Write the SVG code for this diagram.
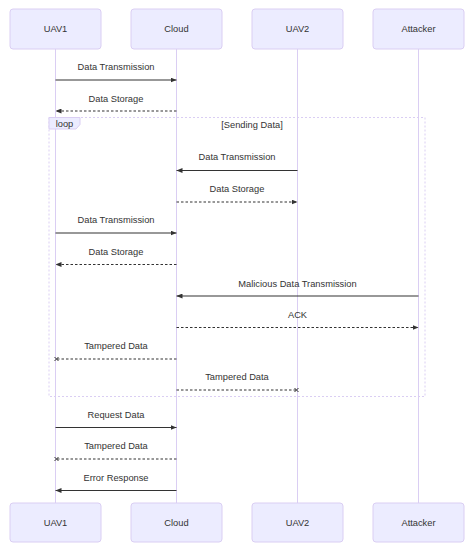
<svg xmlns="http://www.w3.org/2000/svg" width="471" height="550" viewBox="0 0 471 550">
<style>
.actor{fill:#ECECFF;stroke:#DACEF3;stroke-width:1}
.atext{font-family:"Liberation Sans",Arial,sans-serif;font-size:9.3px;fill:#333;text-anchor:middle}
.life{stroke:#DACEF3;stroke-width:1}
.msg{stroke:#333;stroke-width:1.2;fill:none}
.dash{stroke-dasharray:2.5,2}
.mtext{font-family:"Liberation Sans",Arial,sans-serif;font-size:9.3px;fill:#333;text-anchor:middle}
.loop{fill:none;stroke:#DACEF3;stroke-width:1;stroke-dasharray:2,2}
.lbox{fill:#ECECFF;stroke:#DACEF3;stroke-width:1}
</style>
<defs>
<marker id="arrow" viewBox="0 0 12 10" refX="12" refY="5" markerWidth="6" markerHeight="5" markerUnits="userSpaceOnUse" orient="auto"><path d="M0,0 L12,5 L0,10 z" fill="#333"/></marker>
<marker id="cross" viewBox="0 0 10 10" refX="5" refY="5" markerWidth="5" markerHeight="5" markerUnits="userSpaceOnUse" orient="auto"><path d="M1,1 L9,9 M9,1 L1,9" stroke="#333" stroke-width="2"/></marker>
</defs>
<rect width="471" height="550" fill="#fff"/>
<g id="lifelines">
<line class="life" x1="55.5" y1="49" x2="55.5" y2="503"/>
<line class="life" x1="176.5" y1="49" x2="176.5" y2="503"/>
<line class="life" x1="297.5" y1="49" x2="297.5" y2="503"/>
<line class="life" x1="418.5" y1="49" x2="418.5" y2="503"/>
</g>
<g id="UAV1"><rect class="actor" x="10" y="9" width="91" height="40" rx="3"/><text class="atext" x="55.5" y="32.3">UAV1</text></g>
<g id="Cloud"><rect class="actor" x="131" y="9" width="91" height="40" rx="3"/><text class="atext" x="176.5" y="32.3">Cloud</text></g>
<g id="UAV2"><rect class="actor" x="252" y="9" width="91" height="40" rx="3"/><text class="atext" x="297.5" y="32.3">UAV2</text></g>
<g id="Attacker"><rect class="actor" x="373" y="9" width="91" height="40" rx="3"/><text class="atext" x="418.5" y="32.3">Attacker</text></g>
<g id="UAV1-bottom"><rect class="actor" x="10" y="503" width="91" height="39" rx="3"/><text class="atext" x="55.5" y="525.5">UAV1</text></g>
<g id="Cloud-bottom"><rect class="actor" x="131" y="503" width="91" height="39" rx="3"/><text class="atext" x="176.5" y="525.5">Cloud</text></g>
<g id="UAV2-bottom"><rect class="actor" x="252" y="503" width="91" height="39" rx="3"/><text class="atext" x="297.5" y="525.5">UAV2</text></g>
<g id="Attacker-bottom"><rect class="actor" x="373" y="503" width="91" height="39" rx="3"/><text class="atext" x="418.5" y="525.5">Attacker</text></g>
<g id="loop">
<rect class="loop" x="49" y="117.5" width="376" height="279"/>
<path class="lbox" d="M49,117.5 L80,117.5 L80,124.5 L76,129 L49,129 Z"/>
<text class="mtext" x="64.5" y="126.5">loop</text>
<text class="mtext" x="252" y="127.8">[Sending Data]</text>
</g>
<g id="connectors">
<line class="msg" x1="55.5" y1="80" x2="176.5" y2="80" marker-end="url(#arrow)"/>
<text class="mtext" x="116" y="70">Data Transmission</text>
<line class="msg dash" x1="176.5" y1="111" x2="55.5" y2="111" marker-end="url(#arrow)"/>
<text class="mtext" x="116" y="101.5">Data Storage</text>
<line class="msg" x1="297.5" y1="170.5" x2="176.5" y2="170.5" marker-end="url(#arrow)"/>
<text class="mtext" x="237" y="160">Data Transmission</text>
<line class="msg dash" x1="176.5" y1="202" x2="297.5" y2="202" marker-end="url(#arrow)"/>
<text class="mtext" x="237" y="192">Data Storage</text>
<line class="msg" x1="55.5" y1="233" x2="176.5" y2="233" marker-end="url(#arrow)"/>
<text class="mtext" x="116" y="223">Data Transmission</text>
<line class="msg dash" x1="176.5" y1="264.5" x2="55.5" y2="264.5" marker-end="url(#arrow)"/>
<text class="mtext" x="116" y="254.5">Data Storage</text>
<line class="msg" x1="418.5" y1="296" x2="176.5" y2="296" marker-end="url(#arrow)"/>
<text class="mtext" x="297.5" y="286.5">Malicious Data Transmission</text>
<line class="msg dash" x1="176.5" y1="327.5" x2="418.5" y2="327.5" marker-end="url(#arrow)"/>
<text class="mtext" x="297.5" y="318">ACK</text>
<line class="msg dash" x1="176.5" y1="359" x2="56.5" y2="359" marker-end="url(#cross)"/>
<text class="mtext" x="116" y="348.5">Tampered Data</text>
<line class="msg dash" x1="176.5" y1="390" x2="296.5" y2="390" marker-end="url(#cross)"/>
<text class="mtext" x="237" y="380">Tampered Data</text>
<line class="msg" x1="55.5" y1="427.5" x2="176.5" y2="427.5" marker-end="url(#arrow)"/>
<text class="mtext" x="116" y="417.5">Request Data</text>
<line class="msg dash" x1="176.5" y1="459" x2="56.5" y2="459" marker-end="url(#cross)"/>
<text class="mtext" x="116" y="448.8">Tampered Data</text>
<line class="msg" x1="176.5" y1="490.5" x2="55.5" y2="490.5" marker-end="url(#arrow)"/>
<text class="mtext" x="116" y="480.5">Error Response</text>
</g>
</svg>
